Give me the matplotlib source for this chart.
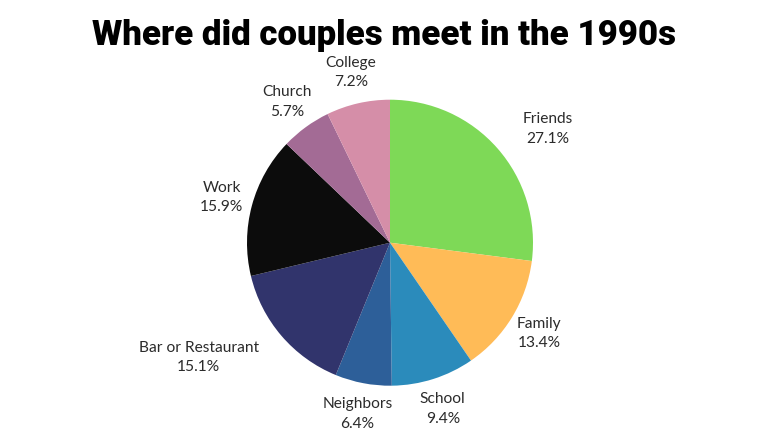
import numpy as np
import matplotlib.pyplot as plt

# data
labels = ["Friends", "Family", "School", "Neighbors",
          "Bar or Restaurant", "Work", "Church", "College"]
shares = [27.1, 13.4, 9.4, 6.4, 15.1, 15.9, 5.7, 7.2]
colors = ["#7ED957", "#FFBB57", "#2B8BBB", "#2D5F99",
          "#31346C", "#0C0C0C", "#A36B95", "#D58EA8"]

# label placement (radius multiples / angle nudges in degrees)
LABEL_DIST = [1.36, 1.22, 1.22, 1.22, 1.56, 1.22, 1.22, 1.22]
LABEL_SHIFT = [-5.6, 0, 0, 0, -9.7, 0, 0, 0]

W, H = 768, 441
CX, CY, R = 390, 441 - 242.7, 143
TITLE_W = 584  # px width of the title in the reference

fig = plt.figure(figsize=(W / 100, H / 100), dpi=100)
ax = fig.add_axes([(CX - R) / W, (CY - R) / H, 2 * R / W, 2 * R / H])

wedges, _ = ax.pie(shares, colors=colors, startangle=90, counterclock=False,
                   radius=1, wedgeprops=dict(linewidth=0))
ax.set_xlim(-1, 1)
ax.set_ylim(-1, 1)
ax.set_aspect('equal')
ax.axis('off')

for w, name, val, d, s in zip(wedges, labels, shares, LABEL_DIST, LABEL_SHIFT):
    ang = np.deg2rad((w.theta1 + w.theta2) / 2 + s)
    ax.text(d * np.cos(ang), d * np.sin(ang), f"{name}\n{val}%",
            ha='center', va='center', fontsize=11.2, color='#2b2b2b',
            family=['Lato', 'DejaVu Sans'], linespacing=1.5, clip_on=False)

title = fig.text(0.5, 1 - 45 / H, "Where did couples meet in the 1990s",
                 ha='center', va='baseline', fontsize=30, fontweight=900,
                 family=['Roboto', 'DejaVu Sans'], color='black')
# shrink title to the reference width
fig.canvas.draw()
tw = title.get_window_extent().width
title.set_fontsize(30 * TITLE_W / tw)

fig.savefig('out.png', dpi=100)
